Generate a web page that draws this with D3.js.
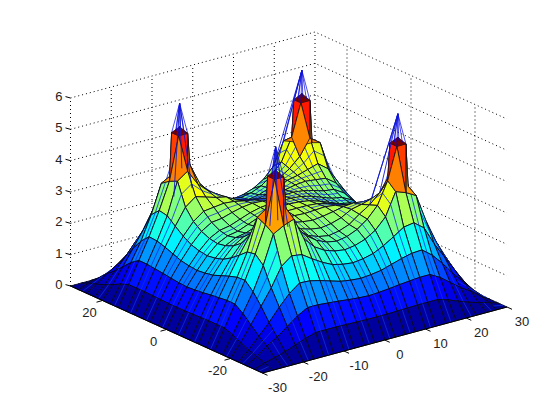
<!DOCTYPE html>
<html>
<head>
<meta charset="utf-8">
<script src="https://cdn.jsdelivr.net/npm/d3@7"></script>
<style>
  body { margin: 0; background: #fff; }
  text { font-family: "Liberation Sans", sans-serif; font-size: 13px; fill: #222; }
</style>
</head>
<body>
<div id="chart"></div>
<script>
const width = 560;
const height = 420;

const xTicks = [-30, -20, -10, 0, 10, 20, 30];
const yTicks = [-20, 0, 20];
const zTicks = [0, 1, 2, 3, 4, 5, 6];

// grid coordinates of one quarter of the surface (the picture is symmetric)
const gridSteps = [0, 2.5, 5, 7.5, 10, 12.5, 15, 17.5, 20, 22.5, 25, 27.5, 30];
const zQuarter = [
  [2.95, 2.93, 2.88, 2.78, 2.65, 2.52, 2.46, 2.30, 2.00, 1.62, 1.18, 0.62, 0],
  [2.93, 2.93, 2.90, 2.82, 2.70, 2.58, 2.52, 2.35, 2.04, 1.65, 1.20, 0.62, 0],
  [2.88, 2.90, 2.92, 2.88, 2.80, 2.70, 2.66, 2.46, 2.12, 1.70, 1.23, 0.63, 0],
  [2.78, 2.82, 2.88, 2.95, 2.98, 2.94, 2.90, 2.66, 2.28, 1.80, 1.27, 0.64, 0],
  [2.65, 2.70, 2.80, 2.98, 3.05, 3.15, 3.25, 3.00, 2.48, 1.90, 1.30, 0.65, 0],
  [2.52, 2.58, 2.70, 2.94, 3.15, 3.45, 3.95, 3.72, 2.70, 1.98, 1.33, 0.65, 0],
  [2.46, 2.52, 2.66, 2.90, 3.25, 3.95, 5.25, 3.60, 2.75, 2.00, 1.33, 0.65, 0],
  [2.30, 2.35, 2.46, 2.66, 3.00, 3.72, 3.60, 3.42, 2.50, 1.75, 1.15, 0.55, 0],
  [2.00, 2.04, 2.12, 2.28, 2.48, 2.70, 2.75, 2.50, 1.90, 1.40, 0.90, 0.42, 0],
  [1.62, 1.65, 1.70, 1.80, 1.90, 1.98, 2.00, 1.75, 1.40, 1.00, 0.65, 0.30, 0],
  [1.18, 1.20, 1.23, 1.27, 1.30, 1.33, 1.33, 1.15, 0.90, 0.65, 0.45, 0.20, 0],
  [0.62, 0.62, 0.63, 0.64, 0.65, 0.65, 0.65, 0.55, 0.42, 0.30, 0.20, 0.12, 0],
  [0, 0, 0, 0, 0, 0, 0, 0, 0, 0, 0, 0, 0]
];

// the four spikes, far ones first: position and the heights of tip and cap
const peakX = [15, -15, 15, -15];
const peakY = [15, 15, -15, -15];
const tipZ = [6, 6, 6, 6];
const capTopZ = [5.25, 5.25, 5.25, 5.25];
const capBaseZ = [5.05, 5.05, 5.05, 5.05];
const capHalf = 1.1;

const jetStops = ["#00008f", "#0000ff", "#0080ff", "#00ffff", "#80ff80", "#ffff00", "#ff8000", "#ff0000", "#800000"];

// orthographic view: each data axis has its own screen shift
const xToLeft = d3.scaleLinear().domain([-30, 30]).range([0, 244.5]);
const xToUp = d3.scaleLinear().domain([-30, 30]).range([0, 66]);
const yToLeft = d3.scaleLinear().domain([-30, 30]).range([0, 192]);
const yToUp = d3.scaleLinear().domain([-30, 30]).range([0, 87]);
const zToUp = d3.scaleLinear().domain([0, 6]).range([0, 188]);

const project = (x, y, z) => [
  262.5 + xToLeft(x) - yToLeft(y),
  373 - xToUp(x) - yToUp(y) - zToUp(z)
];

const color = d3.scaleLinear()
  .domain(d3.range(jetStops.length).map((i) => (i / (jetStops.length - 1)) * 5.25))
  .range(jetStops)
  .clamp(true);

const facetColor = (zs) => color(0.7 * d3.min(zs) + 0.3 * d3.mean(zs));
const peakColor = (zs) => color(0.3 * d3.min(zs) + 0.7 * d3.mean(zs));

// mirror the quarter into the whole grid
const coords = [...gridSteps.slice(1).reverse().map((d) => -d), ...gridSteps];
const zAt = (i, j) => zQuarter[Math.abs(j - 12)][Math.abs(i - 12)];
const nodeZ = (x, y) => zAt(coords.indexOf(x), coords.indexOf(y));

const svg = d3.select("#chart").append("svg")
  .attr("width", width)
  .attr("height", height);

const line = d3.line();

// back walls
const dotted = svg.append("g")
  .attr("fill", "none")
  .attr("stroke", "#000")
  .attr("stroke-width", 1)
  .attr("stroke-dasharray", "1,3");

zTicks.forEach((z) => {
  dotted.append("path").attr("d", line([project(-30, 30, z), project(30, 30, z), project(30, -30, z)]));
});
xTicks.forEach((x) => {
  dotted.append("path").attr("d", line([project(x, 30, 0), project(x, 30, 6)]));
});
yTicks.forEach((y) => {
  dotted.append("path").attr("d", line([project(30, y, 0), project(30, y, 6)]));
});

// surface cells, far ones first
const depth = (x, y) => 1.1 * x + 1.45 * y;
const items = [];
const cellOrder = [];
for (let j = 0; j < coords.length - 1; j++) {
  for (let i = 0; i < coords.length - 1; i++) {
    cellOrder.push([i, j]);
  }
}
cellOrder.sort((a, b) => depth(coords[b[0]], coords[b[1]]) - depth(coords[a[0]], coords[a[1]]));

cellOrder.forEach(([i, j]) => {
  const x0 = coords[i], x1 = coords[i + 1], y0 = coords[j], y1 = coords[j + 1];
  const z00 = zAt(i, j), z10 = zAt(i + 1, j), z11 = zAt(i + 1, j + 1), z01 = zAt(i, j + 1);
  items.push({
    d: line([project(x0, y0, z00), project(x1, y0, z10), project(x1, y1, z11), project(x0, y1, z01)]) + "Z",
    fill: facetColor([z00, z10, z11, z01]),
    stroke: "#080820",
    sw: 0.9
  });
  // blue wires through the cell middles, dense only behind the front peak
  const mx = (x0 + x1) / 2, my = (y0 + y1) / 2;
  const dense = mx > -3 && mx < 16 && my > 0 && my < 16;
  const radialAlongY = Math.abs(my) > Math.abs(mx);
  if ((radialAlongY && i % 2 === 0) || dense) {
    items.push({
      d: line([project(mx, y0, (z00 + z10) / 2), project(mx, y1, (z01 + z11) / 2)]),
      fill: "none", stroke: "#1030d8", sw: 0.8
    });
  }
  if ((!radialAlongY && j % 2 === 0) || dense) {
    items.push({
      d: line([project(x0, my, (z00 + z01) / 2), project(x1, my, (z10 + z11) / 2)]),
      fill: "none", stroke: "#1030d8", sw: 0.8
    });
  }
});

svg.append("g").selectAll("path")
  .data(items)
  .join("path")
  .attr("d", (d) => d.d)
  .attr("fill", (d) => d.fill)
  .attr("stroke", (d) => d.stroke)
  .attr("stroke-width", (d) => d.sw)
  .attr("stroke-linejoin", "round");

// peak facets: kites and triangles from the grid ring up to the cap
const peaks = svg.append("g");
peakX.forEach((px, k) => {
  const py = peakY[k];
  const h = capHalf;
  const r = gridSteps[1];
  const capPoint = (a, b) => ({ x: px + a * h, y: py + b * h, z: capBaseZ[k] });
  const ringPoint = (a, b) => ({ x: px + a * r, y: py + b * r, z: nodeZ(px + a * r, py + b * r) });
  const facets = [];
  [[-1, -1], [1, -1], [1, 1], [-1, 1]].forEach(([a, b]) => {
    facets.push([capPoint(a, b), ringPoint(a, 0), ringPoint(a, b), ringPoint(0, b)]);
    facets.push([capPoint(a, b), capPoint(a, -b), ringPoint(a, 0)]);
    facets.push([capPoint(a, b), capPoint(-a, b), ringPoint(0, b)]);
  });
  facets.sort((p, q) => d3.mean(q, (d) => depth(d.x, d.y)) - d3.mean(p, (d) => depth(d.x, d.y)));
  facets.forEach((f) => {
    peaks.append("path")
      .attr("d", line(f.map((d) => project(d.x, d.y, d.z))) + "Z")
      .attr("fill", peakColor(f.map((d) => d.z)))
      .attr("stroke", "#101020")
      .attr("stroke-width", 0.8)
      .attr("stroke-linejoin", "round");
  });

  const base = [[-h, -h], [h, -h], [h, h], [-h, h]].map(([a, b]) => project(px + a, py + b, capBaseZ[k]));
  const top = project(px, py, capTopZ[k]);
  const tip = project(px, py, tipZ[k]);
  base.forEach((p, n) => {
    peaks.append("path")
      .attr("d", line([p, base[(n + 1) % 4], top]) + "Z")
      .attr("fill", "#7a0000")
      .attr("stroke", "#401018")
      .attr("stroke-width", 0.6);
  });
  // wires from the tip down to the cap edge and the neighbouring nodes
  [[-h, -h], [h, -h], [h, 0], [h, h], [0, h], [-h, h], [-h, 0]].forEach(([a, b]) => {
    peaks.append("path")
      .attr("d", line([tip, project(px + a, py + b, capBaseZ[k])]))
      .attr("stroke", "#0000e0")
      .attr("stroke-width", 0.7)
      .attr("fill", "none");
  });
  [[2.5, 2.5], [5, 2.5], [2.5, 5]].forEach(([a, b]) => {
    const qx = px + a * (px > 0 ? -1 : 1);
    const qy = py + b;
    peaks.append("path")
      .attr("d", line([tip, project(qx, qy, nodeZ(qx, qy))]))
      .attr("stroke", "#1018d0")
      .attr("stroke-width", 0.9)
      .attr("fill", "none");
  });
});

// solid edges, ticks and labels
const axis = svg.append("g").attr("fill", "none").attr("stroke", "#000").attr("stroke-width", 1);
axis.append("path").attr("d", line([project(-30, 30, 0), project(-30, -30, 0), project(30, -30, 0)]));
const tickLabels = svg.append("g");

xTicks.forEach((x) => {
  const [a, b] = project(x, -30, 0);
  axis.append("path").attr("d", line([[a, b], [a + 5, b + 2.3]]));
  tickLabels.append("text").attr("x", a + 15).attr("y", b + 19).attr("text-anchor", "middle").text(x);
});
yTicks.forEach((y) => {
  const [a, b] = project(-30, y, 0);
  axis.append("path").attr("d", line([[a, b], [a - 6, b + 1.7]]));
  tickLabels.append("text").attr("x", a - 13).attr("y", b + 16).attr("text-anchor", "middle").text(y);
});
zTicks.forEach((z) => {
  const [a, b] = project(-30, 30, z);
  axis.append("path").attr("d", line([[a, b], [a - 5, b - 1.4]]));
  tickLabels.append("text").attr("x", a - 8).attr("y", b + 3).attr("text-anchor", "end").text(z);
});
</script>
</body>
</html>
